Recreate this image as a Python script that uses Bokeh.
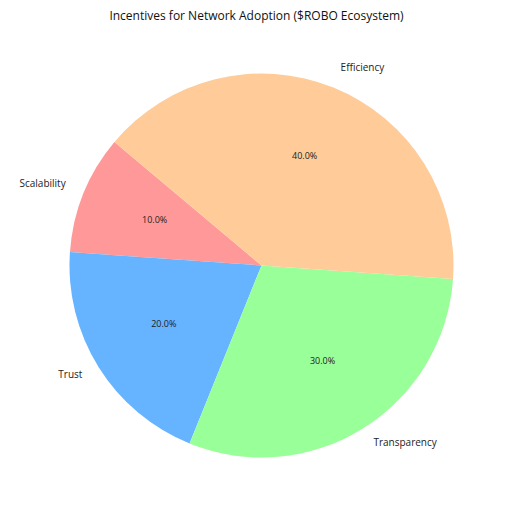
import math
from bokeh.plotting import figure
from bokeh.models import ColumnDataSource, Range1d
from bokeh.core.properties import value
from bokeh.embed import file_html
from bokeh.resources import INLINE

title = "Incentives for Network Adoption ($ROBO Ecosystem)"
categories = ["Scalability", "Trust", "Transparency", "Efficiency"]
shares = [10, 20, 30, 40]
colors = ["#ff9999", "#66b3ff", "#99ff99", "#ffcc99"]
start_deg = 140

FONT = value("Open Sans")
W = H = 496
R = 1.0
scale = 192.0
cx_px, cy_px = 261.0, 265.0

total = float(sum(shares))
starts, ends, mids = [], [], []
a = math.radians(start_deg)
for v in shares:
    s = a
    e = a + 2 * math.pi * v / total
    starts.append(s)
    ends.append(e)
    mids.append((s + e) / 2)
    a = e

src = ColumnDataSource(dict(start=starts, end=ends, color=colors,
                            x=[0] * len(shares), y=[0] * len(shares)))

p = figure(width=W, height=H, output_backend="svg", toolbar_location=None,
           min_border=0, match_aspect=False)
p.x_range = Range1d(-cx_px / scale, (W - cx_px) / scale)
p.y_range = Range1d(-(H - cy_px) / scale, cy_px / scale)
p.axis.visible = False
p.grid.visible = False
p.outline_line_color = None
p.background_fill_color = "white"
p.border_fill_color = "white"

p.wedge(x="x", y="y", radius=R, start_angle="start", end_angle="end",
        fill_color="color", line_color=None, source=src)

# outer labels
lx, ly, la = [], [], []
for m in mids:
    lx.append(1.1 * R * math.cos(m))
    ly.append(1.1 * R * math.sin(m))
    la.append("left" if math.cos(m) >= 0 else "right")
for i in range(len(categories)):
    p.text(x=[lx[i]], y=[ly[i]], text=[categories[i]], text_align=la[i],
           text_baseline="middle", text_font=FONT, text_font_size="10px",
           text_color="#222222", y_offset=-3)

# percentages
px = [0.6 * R * math.cos(m) for m in mids]
py = [0.6 * R * math.sin(m) for m in mids]
pt = ["%.1f%%" % (100 * v / total) for v in shares]
p.text(x=px, y=py, text=pt, text_align="center", text_baseline="middle",
       text_font=FONT, text_font_size="9px", text_color="#222222", y_offset=-3)

# title
p.text(x=[(256 - cx_px) / scale], y=[(cy_px - 15) / scale], text=[title],
       text_align="center", text_baseline="middle", text_font=FONT,
       text_font_size="12px", text_color="#111111")

open("out.html", "w").write(file_html(p, INLINE))
